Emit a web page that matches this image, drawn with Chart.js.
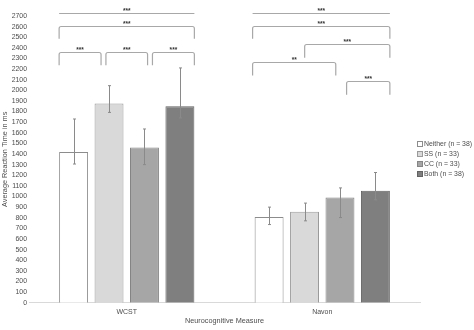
<!DOCTYPE html>
<html>
<head>
<meta charset="utf-8">
<script src="https://cdn.jsdelivr.net/npm/chart.js@4.4.1/dist/chart.umd.min.js"></script>
<style>
  html,body{margin:0;padding:0;background:#fff;}
  #wrap{width:474px;height:330px;position:relative;}
</style>
</head>
<body>
<div id="wrap"><canvas id="chart"></canvas></div>
<script>
// values (ms)
const categories=['WCST','Navon'];
const groupLabels=['Neither (n = 38)','SS (n = 33)','CC (n = 33)','Both (n = 38)'];
const neither=[1420,806], ss=[1877,856], cc=[1462,991], both=[1849,1054];
const neitherHi=[1730,900], neitherLo=[1306,736];
const ssHi=[2044,938], ssLo=[1792,771];
const ccHi=[1636,1081], ccLo=[1300,802];
const bothHi=[2211,1226], bothLo=[1740,969];
const yMax=2700, yStep=100;
// significance brackets: category, span as share of the bar group, top value, end value (null = flat line)
const brackets=[
  {cat:0,from:0,to:1,y:2730,end:null,label:'***'},
  {cat:0,from:0,to:1,y:2604,end:2485,label:'***'},
  {cat:0,from:0,to:0.31,y:2362,end:2236,label:'***'},
  {cat:0,from:0.346,to:0.654,y:2362,end:2236,label:'***'},
  {cat:0,from:0.69,to:1,y:2362,end:2236,label:'***'},
  {cat:1,from:-0.015,to:1,y:2724,end:null,label:'***'},
  {cat:1,from:-0.015,to:1,y:2604,end:2485,label:'***'},
  {cat:1,from:0.37,to:1,y:2441,end:2306,label:'***'},
  {cat:1,from:-0.015,to:0.6,y:2264,end:2139,label:'**'},
  {cat:1,from:0.68,to:1,y:2092,end:1959,label:'***'}
];

const fills=['#ffffff','#d9d9d9','#a6a6a6','#7f7f7f'];
const borders=['#8c8c8c','#9a9a9a','#858585','#626262'];
const hi=[neitherHi,ssHi,ccHi,bothHi], lo=[neitherLo,ssLo,ccLo,bothLo];
const FONT='"Liberation Sans", Arial, sans-serif';
const TXT='#4d4d4d';

const errorBars={id:'errorBars',afterDatasetsDraw(chart){
  const ctx=chart.ctx, y=chart.scales.y;
  ctx.save(); ctx.strokeStyle='#8a8a8a'; ctx.lineWidth=1;
  chart.data.datasets.forEach((ds,i)=>{
    chart.getDatasetMeta(i).data.forEach((bar,j)=>{
      const x=Math.round(bar.x)+0.5, yh=y.getPixelForValue(hi[i][j]), yl=y.getPixelForValue(lo[i][j]);
      ctx.beginPath(); ctx.moveTo(x,yh); ctx.lineTo(x,yl);
      ctx.moveTo(x-1.5,yh); ctx.lineTo(x+1.5,yh); ctx.moveTo(x-1.5,yl); ctx.lineTo(x+1.5,yl); ctx.stroke();
    });
  });
  ctx.restore();
}};

const sigBrackets={id:'sigBrackets',afterDraw(chart){
  const ctx=chart.ctx, y=chart.scales.y;
  const first=chart.getDatasetMeta(0).data, last=chart.getDatasetMeta(3).data;
  ctx.save(); ctx.strokeStyle='#a8a8a8'; ctx.lineWidth=1.2;
  ctx.fillStyle='#333333'; ctx.font='bold 6.5px '+FONT; ctx.textAlign='center'; ctx.textBaseline='middle';
  brackets.forEach(b=>{
    const l=first[b.cat].x-first[b.cat].width/2, r=last[b.cat].x+last[b.cat].width/2;
    const x0=l+(r-l)*b.from, x1=l+(r-l)*b.to, yt=Math.round(y.getPixelForValue(b.y))+0.5;
    ctx.beginPath();
    if(b.end===null){ ctx.moveTo(x0,yt); ctx.lineTo(x1,yt); }
    else{
      const ye=y.getPixelForValue(b.end), rad=2;
      ctx.moveTo(x0,ye); ctx.arcTo(x0,yt,x0+rad,yt,rad); ctx.arcTo(x1,yt,x1,yt+rad,rad); ctx.lineTo(x1,ye);
    }
    ctx.stroke();
    ctx.fillText(b.label,(x0+x1)/2,yt-2.5);
  });
  ctx.restore();
}};

const sideLegend={id:'sideLegend',afterDraw(chart){
  const ctx=chart.ctx, a=chart.chartArea, mid=(a.top+a.bottom)/2;
  ctx.save(); ctx.font='6.9px '+FONT; ctx.textBaseline='middle'; ctx.fillStyle=TXT;
  groupLabels.forEach((t,i)=>{
    const yy=Math.round(mid-15+i*10);
    ctx.fillStyle=fills[i]; ctx.fillRect(417.5,yy-2.5,5,5);
    ctx.strokeStyle=borders[i]; ctx.lineWidth=1; ctx.strokeRect(417.5,yy-2.5,5,5);
    ctx.fillStyle=TXT; ctx.fillText(t,424,yy);
  });
  ctx.restore();
}};

const series=[neither,ss,cc,both];
new Chart(document.getElementById('chart'),{
  type:'bar',
  data:{labels:categories,datasets:series.map((d,i)=>({label:groupLabels[i],data:d,backgroundColor:fills[i],borderColor:borders[i],borderWidth:1,barPercentage:0.817,categoryPercentage:0.725}))},
  options:{
    responsive:true,maintainAspectRatio:false,animation:false,devicePixelRatio:1,
    layout:{padding:{top:16,right:54,left:0,bottom:0}},
    plugins:{legend:{display:false},tooltip:{enabled:false}},
    scales:{
      x:{grid:{display:false,drawTicks:false},border:{display:true,color:'#d9d9d9'},
        ticks:{color:TXT,font:{family:FONT,size:7},padding:5},
        title:{display:true,text:'Neurocognitive Measure',color:TXT,font:{family:FONT,size:7.3},padding:{top:0,bottom:5}},
        afterFit(s){s.height=27.3;}},
      y:{min:0,max:yMax,grid:{display:false,drawTicks:false},border:{display:false},
        ticks:{stepSize:yStep,color:TXT,font:{family:FONT,size:6.9},padding:2,autoSkip:false,callback:v=>String(v)},
        title:{display:true,text:'Average Reaction Time in ms',color:TXT,font:{family:FONT,size:7.3},padding:{top:1,bottom:0}},
        afterFit(s){s.width=29;}}
    }
  },
  plugins:[errorBars,sigBrackets,sideLegend]
});
</script>
</body>
</html>
